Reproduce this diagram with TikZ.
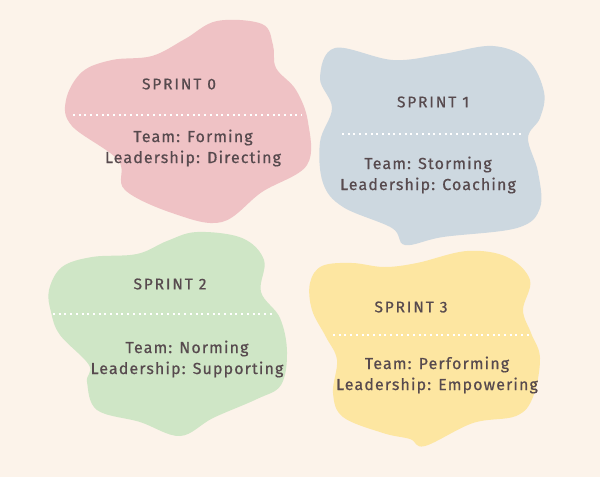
\documentclass[tikz,border=0pt]{standalone}
\usepackage{fontspec}
\setmainfont{Fira Sans}
\newfontfamily\headfont[LetterSpace=12,FakeBold=0.6]{Fira Sans}
\newfontfamily\bodyfont[LetterSpace=7,FakeBold=0.6]{Fira Sans}
\definecolor{bg}{HTML}{FCF3EA}
\definecolor{pinkb}{HTML}{EFC2C5}
\definecolor{blueb}{HTML}{CDD8E0}
\definecolor{greenb}{HTML}{CFE6C6}
\definecolor{yellowb}{HTML}{FDE6A1}
\definecolor{ink}{HTML}{574A4E}
\tikzset{
  blob/.style={draw=none, fill=#1},
  head/.style={text=ink, font=\headfont\fontsize{15.5}{18}\selectfont, inner sep=0pt},
  body/.style={text=ink, font=\bodyfont\fontsize{16}{21}\selectfont, align=center, inner sep=0pt},
  dotline/.style={white, line width=2pt, dash pattern=on 2pt off 3.7pt},
}
\begin{document}
\begin{tikzpicture}[x=1pt,y=-1pt]
\useasboundingbox (0,0) rectangle (600,477);
\fill[bg] (0,0) rectangle (600,477);
% Sprint 0 blob
\fill[pinkb] plot[smooth cycle, tension=0.6] coordinates {
 (217,21) (262,24) (273,45) (276,68) (296,90) (308,122) (307,165)
 (262,192) (222,222) (175,214) (125,190) (118,160) (72,126) (66,100)
 (82,72) (112,60) (152,56) (185,39)};
% Sprint 1 blob
\fill[blueb] plot[smooth cycle, tension=0.6] coordinates {
 (335,48) (393,60) (443,54) (493,46) (528,60) (544,92) (540,118)
 (528,138) (538,172) (540,208) (517,228) (443,237) (405,245) (392,228)
 (343,207) (323,183) (320,142) (332,108) (320,78)};
% Sprint 2 blob
\fill[greenb] plot[smooth cycle, tension=0.6] coordinates {
 (197,232) (242,238) (264,260) (261,292) (280,318) (287,352) (281,385)
 (257,399) (213,418) (180,436) (140,422) (97,410) (87,382) (89,365)
 (60,335) (51,312) (49,290) (62,267) (92,257) (137,254) (167,241)};
% Sprint 3 blob
\fill[yellowb] plot[smooth cycle, tension=0.6] coordinates {
 (467,251) (507,257) (530,280) (523,310) (531,333) (540,358) (533,397)
 (516,416) (473,423) (425,446) (410,439) (383,433) (343,417) (333,393)
 (337,360) (326,337) (312,310) (310,283) (322,266) (352,263) (384,267)
 (417,263)};
% dotted separators
\coordinate (d0a) at (73,115); \coordinate (d0b) at (302,115);
\coordinate (d1a) at (342,134); \coordinate (d1b) at (522,134);
\coordinate (d2a) at (53,314); \coordinate (d2b) at (272,314);
\coordinate (d3a) at (333,335); \coordinate (d3b) at (530,335);
\draw[dotline] (d0a) -- (d0b);
\draw[dotline] (d1a) -- (d1b);
\draw[dotline] (d2a) -- (d2b);
\draw[dotline] (d3a) -- (d3b);
% texts
\node[head] (h0) at (179,84) {SPRINT 0};
\node[body] (b0) at (193,148) {Team: Forming\\Leadership: Directing};
\node[head] (h1) at (433,102) {SPRINT 1};
\node[body] (b1) at (428,175) {Team: Storming\\Leadership: Coaching};
\node[head] (h2) at (170,284) {SPRINT 2};
\node[body] (b2) at (187,359) {Team: Norming\\Leadership: Supporting};
\node[head] (h3) at (411,307) {SPRINT 3};
\node[body] (b3) at (437,375) {Team: Performing\\Leadership: Empowering};
\end{tikzpicture}
\end{document}
